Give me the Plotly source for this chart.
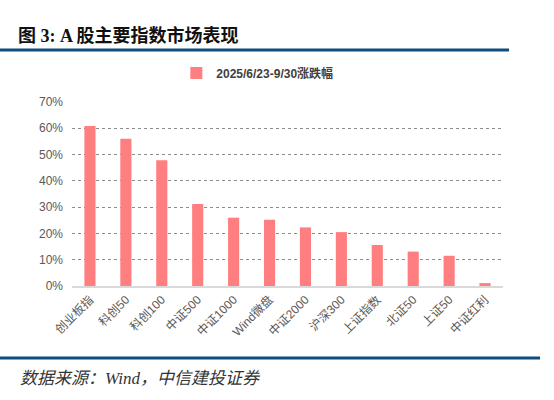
import plotly.graph_objects as go

# 指数名称和区间涨跌幅
indices = ["创业板指", "科创50", "科创100", "中证500", "中证1000", "Wind微盘",
           "中证2000", "沪深300", "上证指数", "北证50", "上证50", "中证红利"]
chg = [0.609, 0.560, 0.478, 0.312, 0.260, 0.252, 0.223, 0.205, 0.156, 0.131, 0.115, 0.011]
series_name = "2025/6/23-9/30涨跌幅"
y_ticks = [0, 0.1, 0.2, 0.3, 0.4, 0.5, 0.6, 0.7]

bar_color = "#FF7F80"
line_blue = "#0E4C7E"
cjk = "Liberation Sans, Noto Sans CJK SC"

fig = go.Figure()
fig.add_trace(go.Bar(x=indices, y=chg, name=series_name,
                     marker=dict(color=bar_color, line=dict(width=0))))

fig.update_layout(
    width=554, height=400,
    margin=dict(l=72, r=51, t=102, b=114),
    paper_bgcolor="white", plot_bgcolor="white",
    bargap=0.69,
    showlegend=True,
    legend=dict(orientation="h", x=0.43, xanchor="center", y=1.158, yanchor="middle",
                font=dict(family=cjk, size=12, color="#404040", weight="bold"),
                itemwidth=30),
    font=dict(family=cjk, size=11, color="#595959"),
)

fig.update_xaxes(tickangle=-45, showline=True, linecolor="#D9D9D9", linewidth=2,
                 ticks="", tickfont=dict(family=cjk, size=12, color="#595959"))
fig.update_yaxes(range=[0, 0.7], tickvals=y_ticks, tickformat=".0%",
                 showgrid=True, gridcolor="#8C8C8C", griddash="dot", gridwidth=1,
                 zeroline=False, ticklabelstandoff=8,
                 tickfont=dict(family=cjk, size=12, color="#595959"))

# 标题、分隔线、资料来源
fig.add_annotation(xref="paper", yref="paper", x=-0.13, y=1.36, xanchor="left", yanchor="middle",
                   text="图 3: A 股主要指数市场表现", showarrow=False,
                   font=dict(family="Liberation Serif, Noto Sans CJK SC", size=18,
                             color="#111111", weight="bold"))
fig.add_shape(type="line", xref="paper", yref="paper", x0=-0.167, x1=1.014, y0=1.283, y1=1.283,
              line=dict(color=line_blue, width=3))
fig.add_shape(type="line", xref="paper", yref="paper", x0=-0.167, x1=1.086, y0=-0.391, y1=-0.391,
              line=dict(color=line_blue, width=3))
fig.add_annotation(xref="paper", yref="paper", x=-0.125, y=-0.5, xanchor="left", yanchor="middle",
                   text="数据来源：Wind，中信建投证券", showarrow=False,
                   font=dict(family="Liberation Serif, Noto Sans CJK SC", size=17,
                             color="#333333", style="italic"))

fig.write_html("out.html", config={"displayModeBar": False},
               post_script="document.body.style.margin='0';")
